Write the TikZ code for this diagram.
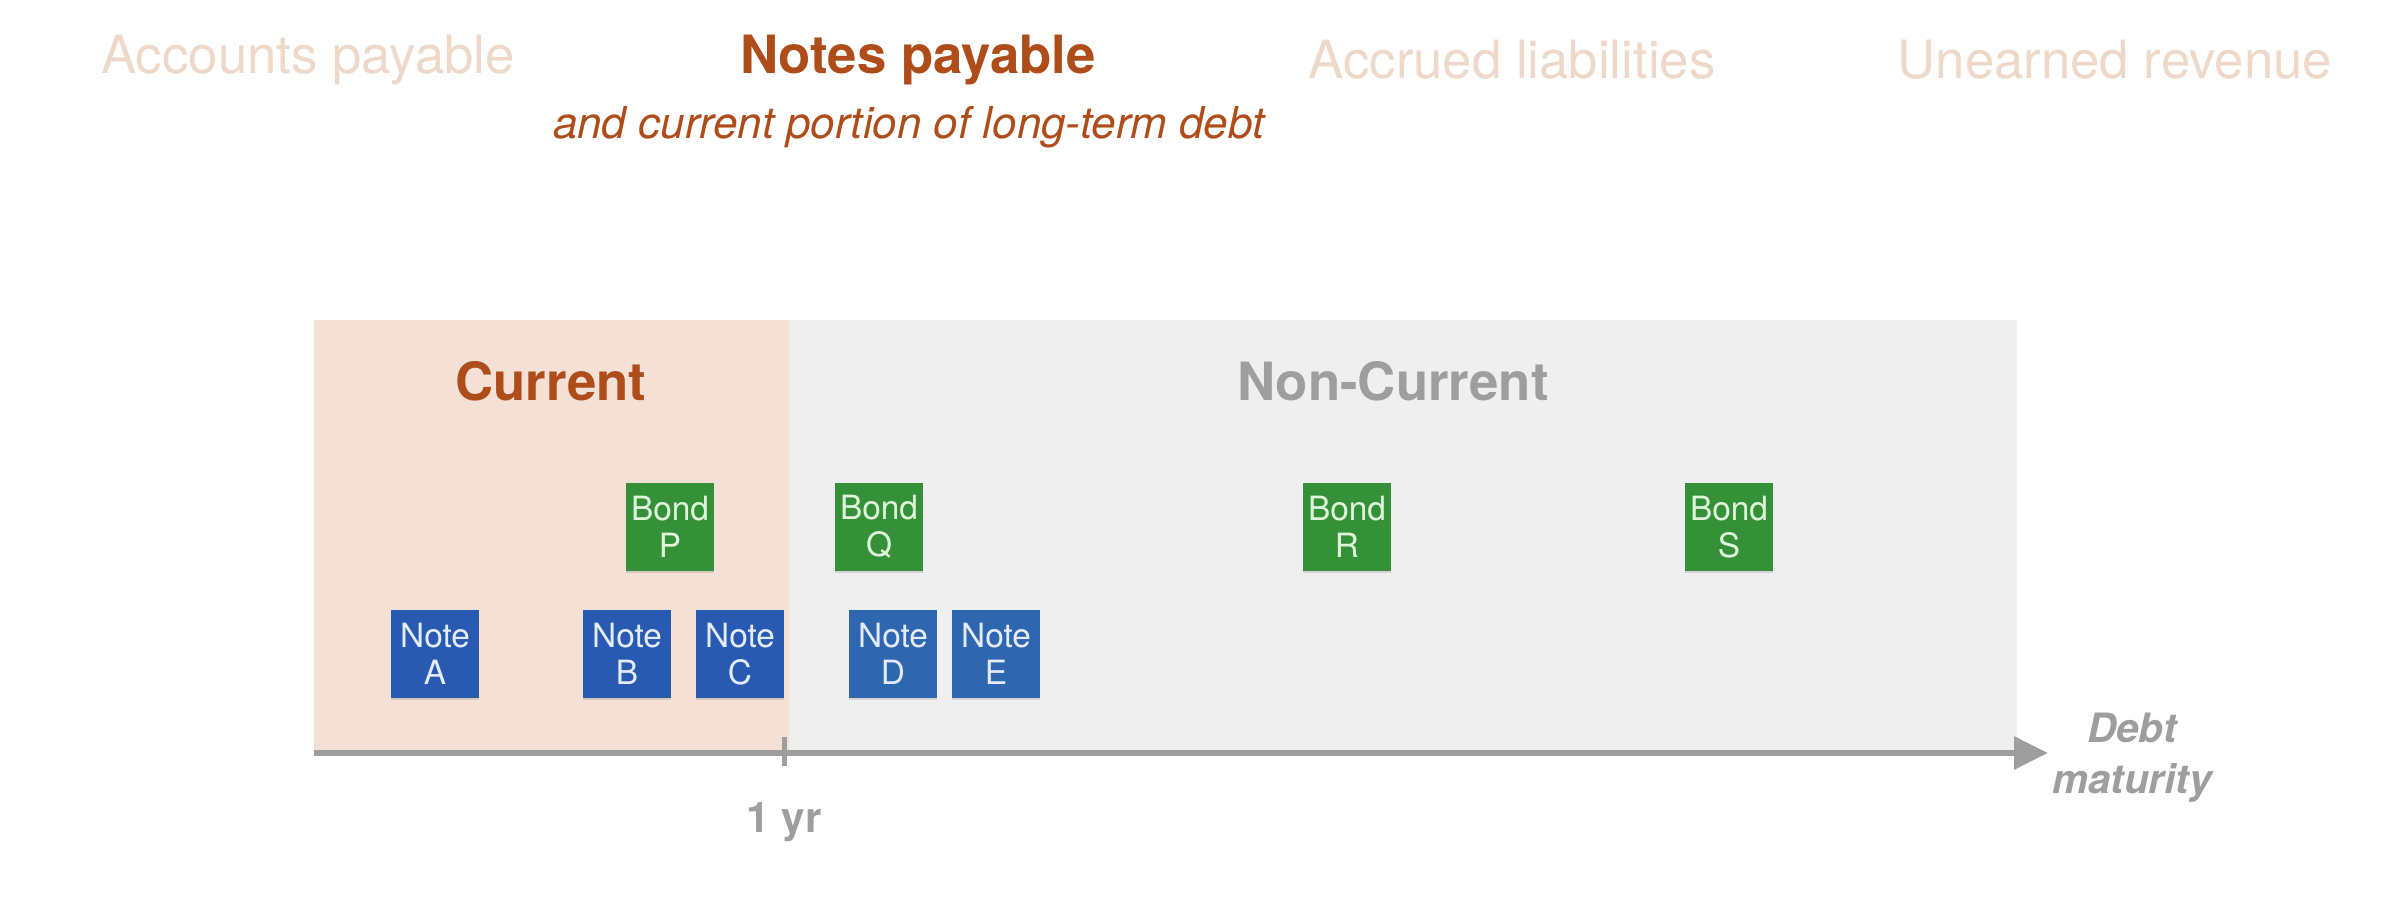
\documentclass[tikz,border=0pt]{standalone}
\usepackage{fontspec}
\setmainfont{TeX Gyre Heros}
\usepackage{tikz}
\usetikzlibrary{arrows.meta, shapes, shadows}

\definecolor{rust}{RGB}{174,76,26}
\definecolor{faded}{RGB}{238,216,202}
\definecolor{curfill}{RGB}{244,224,212}
\definecolor{ncfill}{RGB}{239,239,239}
\definecolor{axisgray}{RGB}{158,158,158}
\definecolor{bondgreen}{RGB}{52,145,56}
\definecolor{bondtext}{RGB}{222,245,218}
\definecolor{noteblue}{RGB}{40,90,178}
\definecolor{noteblueb}{RGB}{46,103,176}
\definecolor{notetext}{RGB}{226,236,250}

\tikzset{
  box/.style={rectangle, minimum width=0.87cm, minimum height=0.87cm, inner sep=0pt,
    align=center, font=\fontsize{9.5}{10.5}\selectfont,
    drop shadow={shadow xshift=0pt, shadow yshift=-0.8pt, opacity=0.25}},
  bond/.style={box, fill=bondgreen, text=bondtext},
  note/.style={box, fill=noteblue, text=notetext},
  head/.style={font=\fontsize{15}{18}\selectfont, text=faded},
}

\begin{document}
\begin{tikzpicture}[x=0.01cm, y=-0.01cm]
\useasboundingbox (0,0) rectangle (2400,910);

% headings
\node[head] (AP) at (308,60) {Accounts payable};
\node[head, text=rust, font=\fontsize{15}{18}\selectfont\bfseries] (NP) at (918,60) {Notes payable};
\node[head] (AL) at (1512,60) {Accrued liabilities};
\node[head] (UR) at (2115,60) {Unearned revenue};
\node[text=rust, font=\fontsize{12.5}{15}\selectfont\itshape] (sub) at (909,127) {and current portion of long-term debt};

% regions
\fill[curfill] (314,320) rectangle (789,753);
\fill[ncfill] (789,320) rectangle (2017,753);
\node[text=rust, font=\fontsize{15}{18}\selectfont\bfseries] (cur) at (551,381) {Current};
\node[text=axisgray, font=\fontsize{15}{18}\selectfont\bfseries] (ncur) at (1393,381) {Non-Current};

% time axis
\coordinate (O) at (314,753);
\coordinate (T) at (2048,753);
\coordinate (K1) at (784,737);
\coordinate (K2) at (784,766);
\draw[axisgray, line width=0.06cm, -{Triangle[length=0.34cm, width=0.32cm]}] (O) -- (T);
\draw[axisgray, line width=0.05cm] (K1) -- (K2);
\node[text=axisgray, font=\fontsize{12}{14}\selectfont\bfseries] (yr) at (784,822) {1 yr};
\node[text=axisgray, font=\fontsize{11.5}{14.5}\selectfont\bfseries\itshape, align=center] (mat) at (2132,758) {Debt\\maturity};

% bonds
\node[bond] (P) at (670,527) {Bond\\P};
\node[bond] (Q) at (879,527) {Bond\\Q};
\node[bond] (R) at (1347,527) {Bond\\R};
\node[bond] (S) at (1729,527) {Bond\\S};

% notes
\node[note] (A) at (435,654) {Note\\A};
\node[note] (B) at (627,654) {Note\\B};
\node[note] (C) at (740,654) {Note\\C};
\node[note, fill=noteblueb] (D) at (893,654) {Note\\D};
\node[note, fill=noteblueb] (E) at (996,654) {Note\\E};
\end{tikzpicture}
\end{document}
